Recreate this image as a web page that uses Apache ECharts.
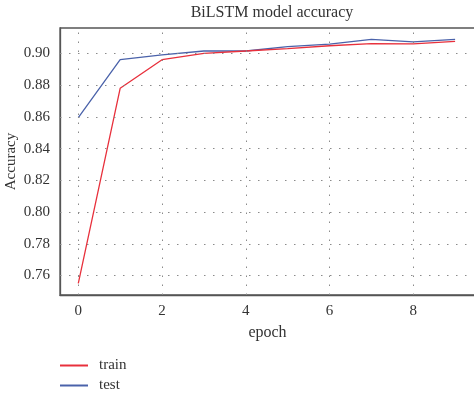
<!DOCTYPE html>
<html><head><meta charset="utf-8">
<script src="https://cdn.jsdelivr.net/npm/echarts@6/dist/echarts.min.js"></script>
<style>html,body{margin:0;padding:0;background:#fff}#c{width:474px;height:395px}</style>
</head><body><div id="c"></div>
<script>
const epochs = [0,1,2,3,4,5,6,7,8,9];
const train = [0.755,0.878,0.896,0.900,0.9015,0.903,0.9048,0.9062,0.906,0.9076];
const test  = [0.8595,0.896,0.899,0.9015,0.9015,0.9042,0.9058,0.9088,0.9073,0.9088];
const xTicks = [0,2,4,6,8];
const yTicks = [0.76,0.78,0.80,0.82,0.84,0.86,0.88,0.90];

const FONT = 'Liberation Serif';
const gridStyle = {type:[1.5,7.5], color:'#8a8a8a', width:1};
const chart = echarts.init(document.getElementById('c'));
chart.setOption({
  animation:false,
  title:{text:'BiLSTM model accuracy', left:267, top:0, textAlign:'center',
    textStyle:{fontFamily:FONT, fontWeight:'normal', fontSize:16, color:'#333'}},
  grid:{left:60, top:28, right:-1, bottom:100, containLabel:false, outerBoundsMode:'none',
    show:true, borderColor:'#555', borderWidth:1.3},
  legend:{orient:'vertical', left:60, top:358, height:45, itemWidth:28, itemHeight:2, itemGap:5,
    padding:0,
    textStyle:{fontFamily:FONT, fontSize:15, color:'#333', padding:[0,0,0,6]},
    data:[{name:'train', icon:'rect'},{name:'test', icon:'rect'}]},
  xAxis:{type:'value', min:-0.437, max:9.475,
    name:'epoch', nameLocation:'middle', nameGap:30,
    nameTextStyle:{fontFamily:FONT, fontSize:16, color:'#333'},
    axisLine:{show:true, onZero:false, lineStyle:{color:'#555', width:1.3}},
    axisTick:{show:false}, splitLine:{show:false},
    axisLabel:{customValues:xTicks, fontFamily:FONT, fontSize:15, color:'#333', margin:9}},
  yAxis:{type:'value', min:0.7477, max:0.916,
    name:'Accuracy', nameLocation:'middle', nameGap:41, nameRotate:90, nameMoveOverlap:false,
    nameTextStyle:{fontFamily:FONT, fontSize:15, color:'#333'},
    axisLine:{show:true, onZero:false, lineStyle:{color:'#555', width:1.3}},
    axisTick:{show:false}, splitLine:{show:false},
    axisLabel:{customValues:yTicks, fontFamily:FONT, fontSize:15, color:'#333', margin:10,
      formatter:v=>v.toFixed(2)}},
  series:[
    {name:'train', type:'line', data:epochs.map((e,i)=>[e,train[i]]), symbol:'none',
      lineStyle:{color:'#e8303c', width:1.3}, itemStyle:{color:'#e8303c'}, z:3,
      markLine:{silent:true, symbol:'none', label:{show:false}, lineStyle:gridStyle,
        data:[...xTicks.map(v=>({xAxis:v})), ...yTicks.map(v=>({yAxis:v}))]}},
    {name:'test', type:'line', data:epochs.map((e,i)=>[e,test[i]]), symbol:'none',
      lineStyle:{color:'#4a62aa', width:1.3}, itemStyle:{color:'#4a62aa'}, z:2}
  ]
});
</script></body></html>
